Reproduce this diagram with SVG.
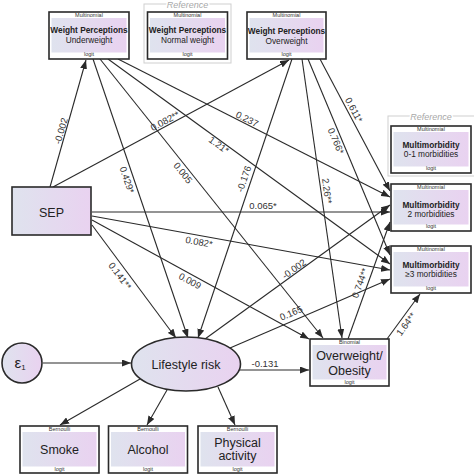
<svg xmlns="http://www.w3.org/2000/svg" width="474" height="474" viewBox="0 0 474 474">
<defs>
<linearGradient id="g" x1="0" y1="0" x2="1" y2="0">
<stop offset="0" stop-color="#dfe3ee"/>
<stop offset="1" stop-color="#e9d2f0"/>
</linearGradient>
<marker id="ah" markerUnits="userSpaceOnUse" markerWidth="9" markerHeight="7" refX="9" refY="3.5" orient="auto">
<path d="M0,0 L9,3.5 L0,7 z" fill="#2a2a2a"/>
</marker>
<style>
.box{fill:#fff;stroke:#2a2a2a;stroke-width:1.6}
.inner{fill:url(#g)}
.gbox{fill:url(#g);stroke:#2a2a2a;stroke-width:1.6}
.hdr{font-family:"Liberation Sans",Arial,sans-serif;font-size:5.5px;fill:#333;text-anchor:middle}
.bold{font-family:"Liberation Sans",Arial,sans-serif;font-size:8.3px;font-weight:bold;fill:#222;text-anchor:middle}
.sub{font-family:"Liberation Sans",Arial,sans-serif;font-size:8.3px;fill:#222;text-anchor:middle}
.big{font-family:"Liberation Sans",Arial,sans-serif;font-size:12.5px;fill:#222;text-anchor:middle}
.lbl{font-family:"Liberation Sans",Arial,sans-serif;font-size:9.5px;fill:#333;text-anchor:middle}
.ref{fill:none;stroke:#cfcfcf;stroke-width:1}
.reft{font-family:"Liberation Sans",Arial,sans-serif;font-size:9px;font-style:italic;fill:#a8a8a8;text-anchor:middle;stroke:#fff;stroke-width:3;paint-order:stroke}
.c{stroke:#2a2a2a;stroke-width:1.1;fill:none;marker-end:url(#ah)}
</style>
</defs>
<rect width="474" height="474" fill="#fff"/>

<g id="connectors">
<line class="c" x1="50" y1="187" x2="86" y2="60"/>
<line class="c" x1="53" y1="187" x2="289" y2="60"/>
<line class="c" x1="93" y1="59" x2="188" y2="338"/>
<line class="c" x1="100" y1="59" x2="323" y2="338"/>
<line class="c" x1="108" y1="59" x2="390" y2="264"/>
<line class="c" x1="118" y1="59" x2="390" y2="197"/>
<line class="c" x1="292" y1="59" x2="198" y2="338"/>
<line class="c" x1="302" y1="59" x2="342" y2="338"/>
<line class="c" x1="308" y1="59" x2="390" y2="255"/>
<line class="c" x1="320" y1="59" x2="390" y2="191"/>
<line class="c" x1="92" y1="212" x2="390" y2="212"/>
<line class="c" x1="92" y1="216" x2="390" y2="270"/>
<line class="c" x1="92" y1="220" x2="309" y2="339"/>
<line class="c" x1="92" y1="225" x2="176" y2="338"/>
<line class="c" x1="205" y1="339" x2="390" y2="205"/>
<line class="c" x1="230" y1="348" x2="390" y2="279"/>
<line class="c" x1="348" y1="339" x2="390" y2="222"/>
<line class="c" x1="240" y1="370" x2="309" y2="370"/>
<line class="c" x1="387" y1="339" x2="420" y2="294"/>
<line class="c" x1="43" y1="363" x2="131" y2="363"/>
<line class="c" x1="140" y1="379" x2="60" y2="425"/>
<line class="c" x1="167" y1="390" x2="147" y2="425"/>
<line class="c" x1="218" y1="387" x2="235" y2="425"/>

<text class="lbl" dy="0.35em" transform="translate(61,131) rotate(-74)">-0.002</text>
<text class="lbl" dy="0.35em" transform="translate(165,121) rotate(-28)">0.082**</text>
<text class="lbl" dy="0.35em" transform="translate(127,180) rotate(71)">0.429*</text>
<text class="lbl" dy="0.35em" transform="translate(183,173) rotate(51)">0.005</text>
<text class="lbl" dy="0.35em" transform="translate(219,145) rotate(36)">1.21*</text>
<text class="lbl" dy="0.35em" transform="translate(247,119) rotate(26.7)">0.237</text>
<text class="lbl" dy="0.35em" transform="translate(244,179) rotate(-71)">-0.176</text>
<text class="lbl" dy="0.35em" transform="translate(327,191) rotate(82)">2.26**</text>
<text class="lbl" dy="0.35em" transform="translate(336,141) rotate(67)">0.766*</text>
<text class="lbl" dy="0.35em" transform="translate(354,110) rotate(62)">0.611*</text>
<text class="lbl" dy="0.35em" transform="translate(263,206)">0.065*</text>
<text class="lbl" dy="0.35em" transform="translate(199,242) rotate(10.3)">0.082*</text>
<text class="lbl" dy="0.35em" transform="translate(190,281) rotate(28.7)">0.009</text>
<text class="lbl" dy="0.35em" transform="translate(120,276) rotate(53.4)">0.141**</text>
<text class="lbl" dy="0.35em" transform="translate(294,269) rotate(-36)">-0.002</text>
<text class="lbl" dy="0.35em" transform="translate(291,313) rotate(-23.3)">0.165</text>
<text class="lbl" dy="0.35em" transform="translate(360,283) rotate(-70)">0.744**</text>
<text class="lbl" dy="0.35em" transform="translate(406,324) rotate(-54)">1.64**</text>
<text class="lbl" dy="0.35em" transform="translate(265,364)">-0.131</text>
</g>

<g id="ref-wp">
<rect class="ref" x="144" y="4" width="87" height="59"/>
<text class="reft" x="187.5" y="7.5">Reference</text>
</g>
<g id="ref-mm">
<rect class="ref" x="388" y="116" width="92" height="60"/>
<text class="reft" x="431" y="120">Reference</text>
</g>

<g id="wp-under">
<rect class="box" x="49" y="12" width="80" height="47"/>
<rect class="inner" x="51.5" y="18" width="75" height="34.5"/>
<text class="hdr" x="89" y="17">Multinomial</text>
<text class="bold" x="89" y="33">Weight Perceptions</text>
<text class="sub" x="89" y="42.5">Underweight</text>
<text class="hdr" x="89" y="56">logit</text>
</g>
<g id="wp-normal">
<rect class="box" x="147.5" y="12" width="80" height="47"/>
<rect class="inner" x="150" y="18" width="75" height="34.5"/>
<text class="hdr" x="187.5" y="17">Multinomial</text>
<text class="bold" x="187.5" y="33">Weight Perceptions</text>
<text class="sub" x="187.5" y="42.5">Normal weight</text>
<text class="hdr" x="187.5" y="56">logit</text>
</g>
<g id="wp-over">
<rect class="box" x="247" y="12" width="79" height="47"/>
<rect class="inner" x="249.5" y="18" width="74" height="34.5"/>
<text class="hdr" x="286.5" y="17">Multinomial</text>
<text class="bold" x="286.5" y="34">Weight Perceptions</text>
<text class="sub" x="286.5" y="43.5">Overweight</text>
<text class="hdr" x="286.5" y="56">logit</text>
</g>

<g id="mm-01">
<rect class="box" x="391" y="126" width="80" height="47"/>
<rect class="inner" x="393.5" y="132" width="75" height="34.5"/>
<text class="hdr" x="431" y="131">Multinomial</text>
<text class="bold" x="431" y="147.5">Multimorbidity</text>
<text class="sub" x="431" y="157">0-1 morbidities</text>
<text class="hdr" x="431" y="170">logit</text>
</g>
<g id="mm-2">
<rect class="box" x="391" y="184" width="80" height="47"/>
<rect class="inner" x="393.5" y="190" width="75" height="34.5"/>
<text class="hdr" x="431" y="189">Multinomial</text>
<text class="bold" x="431" y="207.5">Multimorbidity</text>
<text class="sub" x="431" y="217">2 morbidities</text>
<text class="hdr" x="431" y="228">logit</text>
</g>
<g id="mm-3">
<rect class="box" x="391" y="246" width="80" height="47"/>
<rect class="inner" x="393.5" y="252" width="75" height="34.5"/>
<text class="hdr" x="431" y="251">Multinomial</text>
<text class="bold" x="431" y="268">Multimorbidity</text>
<text class="sub" x="431" y="277">≥3 morbidities</text>
<text class="hdr" x="431" y="290">logit</text>
</g>

<g id="sep">
<rect class="gbox" x="12" y="187" width="79" height="48"/>
<text class="big" x="51.5" y="217">SEP</text>
</g>

<g id="e1">
<circle cx="22" cy="363" r="20" class="gbox"/>
<text font-family="'Liberation Sans',Arial,sans-serif" font-size="15" fill="#222" x="14.5" y="368">ε<tspan font-size="8" dy="1.5">1</tspan></text>
</g>

<g id="lifestyle">
<ellipse cx="186" cy="364" rx="54.5" ry="27" class="gbox"/>
<text class="big" x="186" y="368.5">Lifestyle risk</text>
</g>

<g id="obesity">
<rect class="box" x="310" y="339" width="79" height="47"/>
<rect class="inner" x="312.5" y="345" width="74" height="34.5"/>
<text class="hdr" x="349.5" y="344">Binomial</text>
<text class="big" x="349.5" y="360">Overweight/</text>
<text class="big" x="349.5" y="375">Obesity</text>
<text class="hdr" x="349.5" y="383.5">logit</text>
</g>

<g id="smoke">
<rect class="box" x="20" y="426" width="79" height="47"/>
<rect class="inner" x="22.5" y="432" width="74" height="34.5"/>
<text class="hdr" x="59.5" y="431">Bernoulli</text>
<text class="big" x="59.5" y="454">Smoke</text>
<text class="hdr" x="59.5" y="470.5">logit</text>
</g>
<g id="alcohol">
<rect class="box" x="108.5" y="426" width="79" height="47"/>
<rect class="inner" x="111" y="432" width="74" height="34.5"/>
<text class="hdr" x="148" y="431">Bernoulli</text>
<text class="big" x="148" y="454">Alcohol</text>
<text class="hdr" x="148" y="470.5">logit</text>
</g>
<g id="physical">
<rect class="box" x="198" y="426" width="79" height="47"/>
<rect class="inner" x="200.5" y="432" width="74" height="34.5"/>
<text class="hdr" x="237.5" y="431">Bernoulli</text>
<text class="big" x="237.5" y="447">Physical</text>
<text class="big" x="237.5" y="460">activity</text>
<text class="hdr" x="237.5" y="470.5">logit</text>
</g>
</svg>
